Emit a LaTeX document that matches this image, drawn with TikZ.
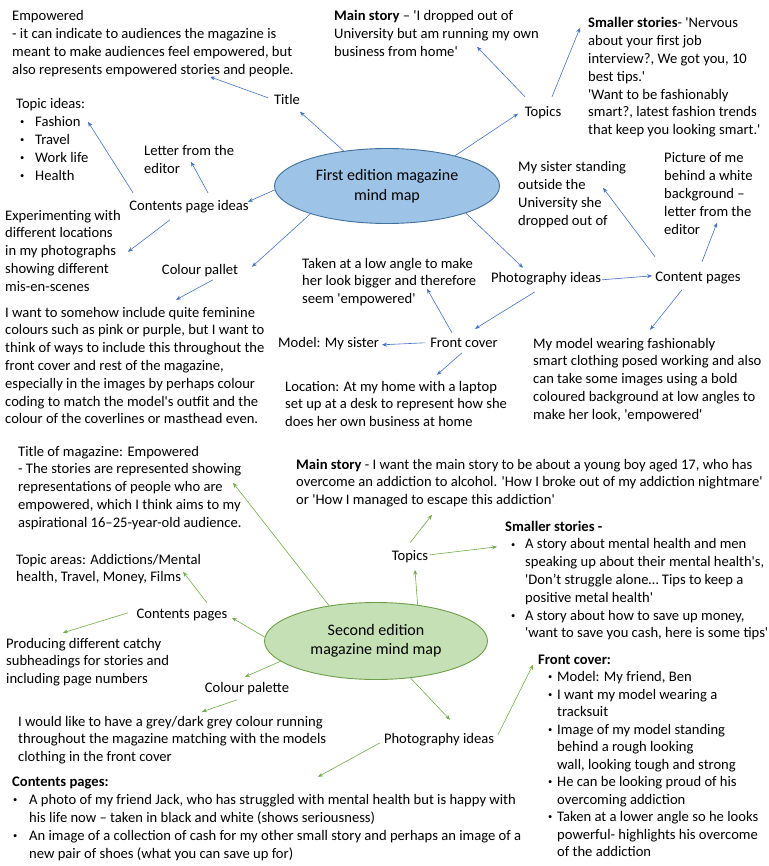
\documentclass[tikz,border=0pt]{standalone}
\usepackage{fontspec}
\newfontfamily\carl{Carlito}
\usetikzlibrary{arrows.meta,shapes.geometric,calc}
\definecolor{arrB}{HTML}{4472C4}
\definecolor{arrG}{HTML}{70AD47}
\definecolor{eAfill}{HTML}{9DC3E6}
\definecolor{eAline}{HTML}{41719C}
\definecolor{eBfill}{HTML}{C5E0B4}
\definecolor{eBline}{HTML}{6E9F4C}
\newcommand\fl{\rule{0pt}{11pt}}
\newcommand\mbul[2]{\hspace*{#1}\makebox[#2][l]{\raisebox{1.8pt}{\fontsize{8.5}{8.5}\selectfont•}}}
\begin{document}
\begin{tikzpicture}[x=1pt,y=-1pt,
  txt/.style={font=\carl\fontsize{14.6}{17.8}\selectfont, inner sep=0pt, text=black},
  lbl/.style={txt, anchor=base},
  blk/.style={txt, anchor=north west, align=left},
  hub/.style={ellipse, inner sep=0pt, minimum width=225pt, minimum height=75pt, align=center,
    font=\carl\fontsize{16}{19.5}\selectfont, line width=0.9pt},
  ab/.style={draw=arrB, line width=0.6pt, -{Stealth[length=5pt,width=4pt]}},
  ag/.style={draw=arrG, line width=0.6pt, -{Stealth[length=5pt,width=4pt]}}]
\fill[white] (0,0) rectangle (768,866);
\useasboundingbox (0,0) rectangle (768,866);

% ---------- first edition ----------
\node[hub, fill=eAfill, draw=eAline] (e1) at (387,186) {First edition magazine\\mind map};
\node[lbl] (title) at (287,104.8) {Title};
\node[blk] (emp) at (12,9.8) {\fl Empowered\\- it can indicate to audiences the magazine is\\meant to make audiences feel empowered, but\\also represents empowered stories and people.};
\node[blk] (ms1) at (334,9.8) {\fl\textbf{Main story} – 'I dropped out of\\University but am running my own\\business from home'};
\node[blk] (sm1) at (588,16.8) {\fl\textbf{Smaller stories}- 'Nervous\\about your first job\\interview?, We got you, 10\\best tips.'\\'Want to be fashionably\\smart?, latest fashion trends\\that keep you looking smart.'};
\node[lbl] (topics) at (543,116.8) {Topics};
\node[blk] (tideas) at (16,97.8) {\fl Topic ideas:\\\mbul{4pt}{15pt}Fashion\\\mbul{4pt}{15pt}Travel\\\mbul{4pt}{15pt}Work life\\\mbul{4pt}{15pt}Health};
\node[blk] (letter) at (144,144.8) {\fl Letter from the\\editor};
\node[lbl] (cpi) at (189,210.8) {Contents page ideas};
\node[blk] (sister) at (518,160.8) {\fl My sister standing\\outside the\\University she\\dropped out of};
\node[blk] (pic) at (664,151.8) {\fl Picture of me\\behind a white\\background –\\letter from the\\editor};
\node[blk] (exper) at (5,208.8) {\fl Experimenting with\\different locations\\in my photographs\\showing different\\mis-en-scenes};
\node[lbl] (cpal) at (200,274.8) {Colour pallet};
\node[blk] (taken) at (302,256.8) {\fl Taken at a low angle to make\\her look bigger and therefore\\seem 'empowered'};
\node[lbl] (photo) at (546,282.8) {Photography ideas};
\node[lbl] (cpages) at (698,281.8) {Content pages};
\node[blk] (iwant) at (5,305.8) {\fl I want to somehow include quite feminine\\colours such as pink or purple, but I want to\\think of ways to include this throughout the\\front cover and rest of the magazine,\\especially in the images by perhaps colour\\coding to match the model's outfit and the\\colour of the coverlines or masthead even.};
\node[txt, anchor=base west] (msis) at (278,347.8) {Model: My sister};
\node[lbl] (fc) at (464,347.8) {Front cover};
\node[blk] (mymodel) at (533,336.8) {\fl My model wearing fashionably\\smart clothing posed working and also\\can take some images using a bold\\coloured background at low angles to\\make her look, 'empowered'};
\node[blk] (loc) at (285,379.8) {\fl Location: At my home with a laptop\\set up at a desk to represent how she\\does her own business at home};

\draw[ab] (e1.141) -- ($(title.base)+(13,7)$);
\draw[ab] ($(title.base)+(-19,-7)$) -- ($(emp.north west)+(198,67)$);
\draw[ab] (e1.182) -- ($(cpi.base)+(59,-9)$);
\draw[ab] ($(cpi.base)+(19,-18)$) -- ($(letter.north west)+(47,17)$);
\draw[ab] ($(cpi.base)+(-56,-18)$) -- ($(tideas.north west)+(72,24)$);
\draw[ab] ($(cpi.base)+(-19,9)$) -- ($(exper.north west)+(123,43)$);
\draw[ab] (e1.200) -- ($(cpal.base)+(52,-8)$);
\draw[ab] ($(cpal.base)+(13,5)$) -- ($(iwant.north west)+(171,-6)$);
\draw[ab] (e1.24) -- ($(topics.base)+(-25,-3)$);
\draw[ab] ($(topics.base)+(-18,-20)$) -- ($(ms1.north west)+(143,37)$);
\draw[ab] ($(topics.base)+(9,-20)$) -- ($(sm1.north west)+(-8,11)$);
\draw[ab] (e1.341) -- ($(photo.base)+(-23,-15)$);
\draw[ab] ($(photo.base)+(56,-3)$) -- ($(cpages.base)+(-46,-6)$);
\draw[ab] ($(cpages.base)+(-43,-25)$) -- ($(sister.north west)+(85,27)$);
\draw[ab] ($(cpages.base)+(4,-20)$) -- ($(pic.north west)+(53,71)$);
\draw[ab] ($(cpages.base)+(-16,8)$) -- ($(mymodel.north west)+(117,-7)$);
\draw[ab] ($(photo.base)+(-11,9)$) -- ($(fc.base)+(11,-19)$);
\draw[ab] ($(fc.base)+(-12,-15)$) -- ($(taken.north west)+(125,32)$);
\draw[ab] ($(fc.base)+(-39,-5)$) -- ($(msis.base west)+(104,-3)$);
\draw[ab] ($(fc.base)+(-2,5)$) -- ($(loc.north west)+(152,-5)$);

% ---------- second edition ----------
\node[hub, fill=eBfill, draw=eBline, minimum width=223pt, minimum height=77pt] (e2) at (376,641) {Second edition\\magazine mind map};
\node[blk] (tmag) at (18,444.8) {\fl Title of magazine: Empowered\\- The stories are represented showing\\representations of people who are\\empowered, which I think aims to my\\aspirational 16–25-year-old audience.};
\node[blk] (ms2) at (296,457.8) {\fl\textbf{Main story} - I want the main story to be about a young boy aged 17, who has\\overcome an addiction to alcohol. 'How I broke out of my addiction nightmare'\\or 'How I managed to escape this addiction'};
\node[blk] (tareas) at (16,552.8) {\fl Topic areas: Addictions/Mental\\health, Travel, Money, Films};
\node[lbl] (topics2) at (410,560.8) {Topics};
\node[blk] (sm2) at (505,519.8) {\fl\textbf{Smaller stories -}\\\mbul{6pt}{14pt}A story about mental health and men\\\hspace*{20pt}speaking up about their mental health's,\\\hspace*{20pt}'Don’t struggle alone… Tips to keep a\\\hspace*{20pt}positive metal health'\\\mbul{6pt}{14pt}A story about how to save up money,\\\hspace*{20pt}'want to save you cash, here is some tips'};
\node[lbl] (cont2) at (182,618.8) {Contents pages};
\node[blk] (prod) at (6,636.8) {\fl Producing different catchy\\subheadings for stories and\\including page numbers};
\node[lbl] (cpal2) at (247,692.8) {Colour palette};
\node[blk] (iwould) at (18,714.8) {\fl I would like to have a grey/dark grey colour running\\throughout the magazine matching with the models\\clothing in the front cover};
\node[lbl] (photo2) at (439,743.8) {Photography ideas};
\node[blk, font=\carl\fontsize{14.6}{17.5}\selectfont] (fc2) at (538,652.8) {\fl\textbf{Front cover:}\\\mbul{10pt}{9pt}Model: My friend, Ben\\\mbul{10pt}{9pt}I want my model wearing a\\\hspace*{19pt}tracksuit\\\mbul{10pt}{9pt}Image of my model standing\\\hspace*{19pt}behind a rough looking\\\hspace*{19pt}wall, looking tough and strong\\\mbul{10pt}{9pt}He can be looking proud of his\\\hspace*{19pt}overcoming addiction\\\mbul{10pt}{9pt}Taken at a lower angle so he looks\\\hspace*{19pt}powerful- highlights his overcome\\\hspace*{19pt}of the addiction};
\node[blk, font=\carl\fontsize{14.6}{18}\selectfont] (contb) at (12,774.8) {\fl\textbf{Contents pages:}\\\mbul{1pt}{16pt}A photo of my friend Jack, who has struggled with mental health but is happy with\\\hspace*{17pt}his life now – taken in black and white (shows seriousness)\\\mbul{1pt}{16pt}An image of a collection of cash for my other small story and perhaps an image of a\\\hspace*{17pt}new pair of shoes (what you can save up for)};

\draw[ag] (e2.143) -- ($(tmag.north west)+(215,38)$);
\draw[ag] (e2.41) -- ($(topics2.base)+(5,9)$);
\draw[ag] ($(topics2.base)+(0,-18)$) -- ($(ms2.north west)+(136,57)$);
\draw[ag] ($(topics2.base)+(20,-6)$) -- ($(sm2.north west)+(-8,27)$);
\draw[ag] (e2.178) -- ($(cont2.base)+(50,-1)$);
\draw[ag] ($(cont2.base)+(25,-16)$) -- ($(tareas.north west)+(167,19)$);
\draw[ag] ($(cont2.base)+(-54,-6)$) -- ($(prod.north west)+(57,-4)$);
\draw[ag] (e2.192) -- ($(cpal2.base)+(-2,-16)$);
\draw[ag] ($(cpal2.base)+(-10,7)$) -- ($(iwould.north west)+(184,-3)$);
\draw[ag] (e2.313) -- ($(photo2.base)+(11,-24)$);
\draw[ag] ($(photo2.base)+(-59,-1)$) -- ($(contb.north west)+(306,2)$);
\draw[ag] ($(photo2.base)+(59,-9)$) -- ($(fc2.north west)+(-5,12)$);
\end{tikzpicture}
\end{document}
